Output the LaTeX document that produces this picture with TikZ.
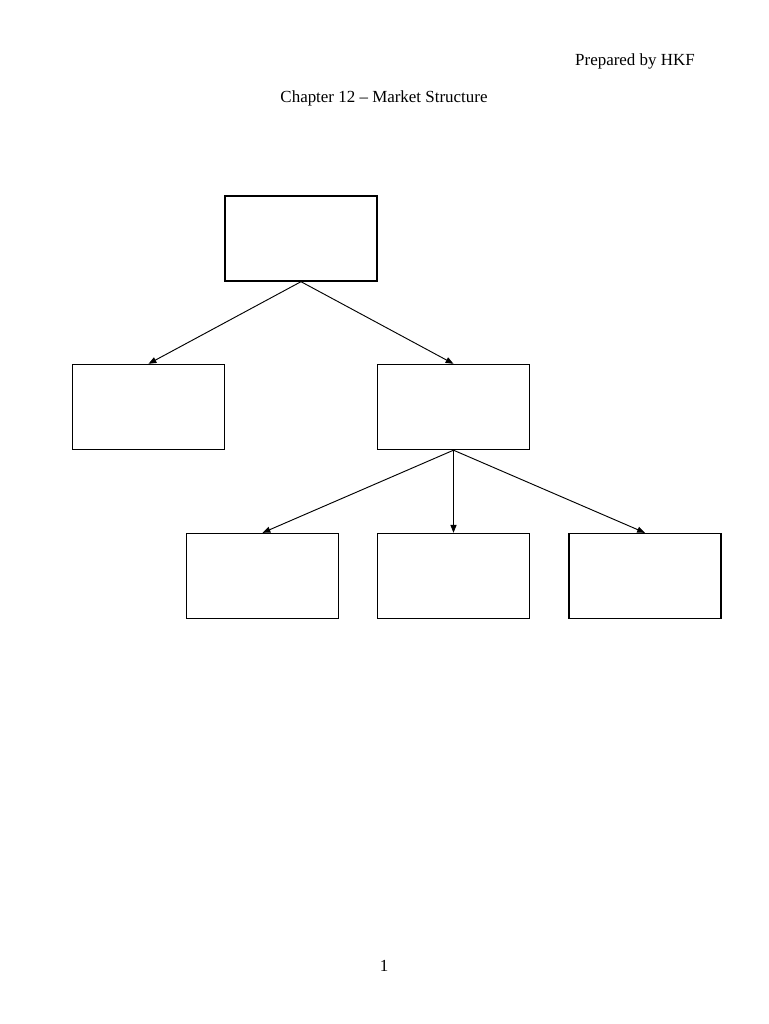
\documentclass[tikz,border=0pt]{standalone}
\usepackage{fontspec}
\setmainfont{Liberation Serif}
\usetikzlibrary{positioning}
\usetikzlibrary{arrows.meta}

\begin{document}
\begin{tikzpicture}[x=0.028cm, y=-0.028cm, font=\fontsize{13.5}{16}\selectfont]
            \tikzset{box/.style = {draw, line width=1.1pt, minimum width=4.26cm, minimum height=2.38cm, inner sep=0pt}}
            \tikzset{edge/.style = {-{Triangle[length=2.2mm, width=1.7mm]}, line width=0.75pt}}

            \useasboundingbox (0,0) rectangle (768,1024);

            % heading
            \node (prepared) at (635, 61) {Prepared by HKF};
            \node (chapter) at (384, 98) {Chapter 12 -- Market Structure};

            % boxes
            \node[box] (market) at (301, 238.5) {};
            \node[box] (left) at (148.5, 407) {};
            \node[box] (right) at (453.5, 407) {};
            \node[box] (low1) at (262.5, 576) {};
            \node[box] (low2) at (453.5, 576) {};
            \node[box] (low3) at (645, 576) {};

            % arrows
            \draw[edge] (market.south) -- (left.north);
            \draw[edge] (market.south) -- (right.north);
            \draw[edge] (right.south) -- (low1.north);
            \draw[edge] (right.south) -- (low2.north);
            \draw[edge] (right.south) -- (low3.north);

            % page number
            \node (page) at (384, 966) {1};

        \end{tikzpicture}
\end{document}
